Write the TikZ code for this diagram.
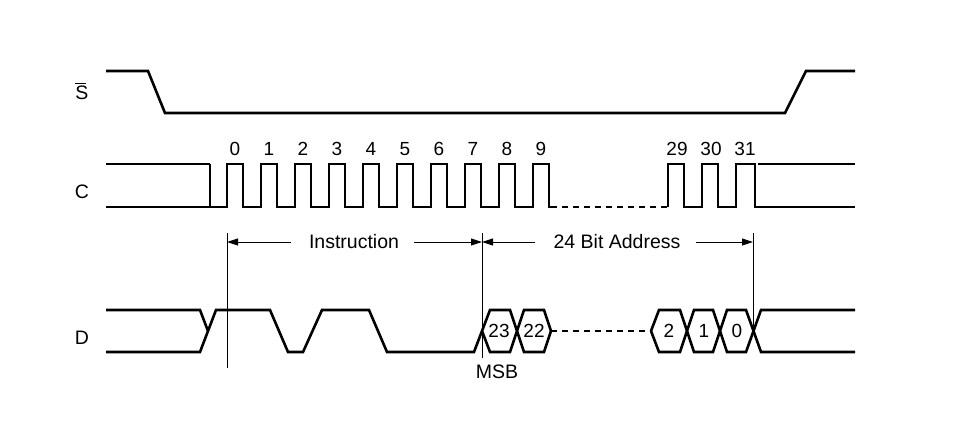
\documentclass[tikz,border=0pt]{standalone}
\usepackage{fontspec}
\setmainfont{Liberation Sans}
\usetikzlibrary{arrows.meta}
\begin{document}
\begin{tikzpicture}[x=1pt,y=-1pt,
  wave/.style={line width=2.6pt,line join=miter},
  dim/.style={line width=0.9pt},
  arr/.style={line width=0.9pt,-{Triangle[length=11pt,width=7pt]}},
  lbl/.style={font=\fontsize{19.5}{22}\selectfont,inner sep=0pt},
  num/.style={font=\fontsize{19}{22}\selectfont,inner sep=0pt}]
\useasboundingbox (0,0) rectangle (964,426);
% signal names
\node[lbl] (sn) at (82,93) {\raisebox{0pt}[0pt][0pt]{\rule[16pt]{11pt}{1pt}}\hspace{-11pt}S};
\node[lbl] (cn) at (82,192) {C};
\node[lbl] (dn) at (82,338) {D};
% S
\draw[wave] (106,71) -- (148,71) -- (165,113) -- (785,113) -- (806,71) -- (855,71);
% C
\draw[wave] (106,164) -- (210,164);
\draw[wave] (106,207) -- (210,207) -- (210,164);
\draw[wave] (210,207) -- (227,207)
  \foreach \k in {0,...,9}{ -- ({227+34*\k},207) -- ({227+34*\k},164) -- ({243+34*\k},164) -- ({243+34*\k},207)} -- (551,207);
\draw[wave,dash pattern=on 6pt off 5pt] (551,207) -- (668,207);
\draw[wave] (668,207)
  \foreach \k in {0,1}{ -- ({668+34*\k},207) -- ({668+34*\k},164) -- ({684+34*\k},164) -- ({684+34*\k},207)} -- (736,207) -- (736,164) -- (755,164) -- (755,207) -- (855,207);
\draw[wave] (758,164) -- (855,164);
\foreach \k in {0,...,9}{\node[num] (c\k) at ({235+34*\k},149) {\k};}
\node[num] (c29) at (677,149) {29};
\node[num] (c30) at (711,149) {30};
\node[num] (c31) at (745,149) {31};
% D
\draw[wave] (106,310) -- (200,310) -- (208,331);
\draw[wave] (106,352) -- (200,352) -- (216,310) -- (270,310) -- (288,352) -- (303,352) -- (322,310) -- (369,310) -- (387,352) -- (474,352) -- (490,310) -- (510,310) -- (524,352) -- (544,352) -- (551,331);
\draw[wave] (482,331) -- (490,352) -- (510,352) -- (524,310) -- (544,310) -- (551,331);
\draw[wave,dash pattern=on 6pt off 5pt] (551,331) -- (651,331);
\draw[wave] (651,331) -- (659,310) -- (680,310) -- (694,352) -- (713,352) -- (727,310) -- (746,310) -- (761,352) -- (855,352);
\draw[wave] (651,331) -- (659,352) -- (680,352) -- (694,310) -- (713,310) -- (727,352) -- (746,352) -- (761,310) -- (855,310);
\node[num] (b23) at (499,331) {23};
\node[num] (b22) at (534,331) {22};
\node[num] (b2) at (669,331) {2};
\node[num] (b1) at (704,331) {1};
\node[num] (b0) at (737,331) {0};
\node[lbl] (msb) at (497,372) {MSB};
% dimension lines
\coordinate (v1t) at (227,233); \coordinate (v1b) at (227,368);
\coordinate (v2t) at (482,233); \coordinate (v2b) at (482,358);
\coordinate (v3t) at (753,233); \coordinate (v3b) at (753,332);
\draw[dim] (v1t) -- (v1b);
\draw[dim] (v2t) -- (v2b);
\draw[dim] (v3t) -- (v3b);
\node[lbl] (ins) at (354,242) {Instruction};
\node[lbl] (adr) at (617,242) {24 Bit Address};
\coordinate (a1) at (227,242); \coordinate (a2) at (482,242); \coordinate (a3) at (753,242);
\draw[arr] (ins.west) ++(-18,0) -- (a1);
\draw[arr] (ins.east) ++(15,0) -- (a2);
\draw[arr] (adr.west) ++(-18,0) -- (a2);
\draw[arr] (adr.east) ++(15,0) -- (a3);
\end{tikzpicture}
\end{document}
